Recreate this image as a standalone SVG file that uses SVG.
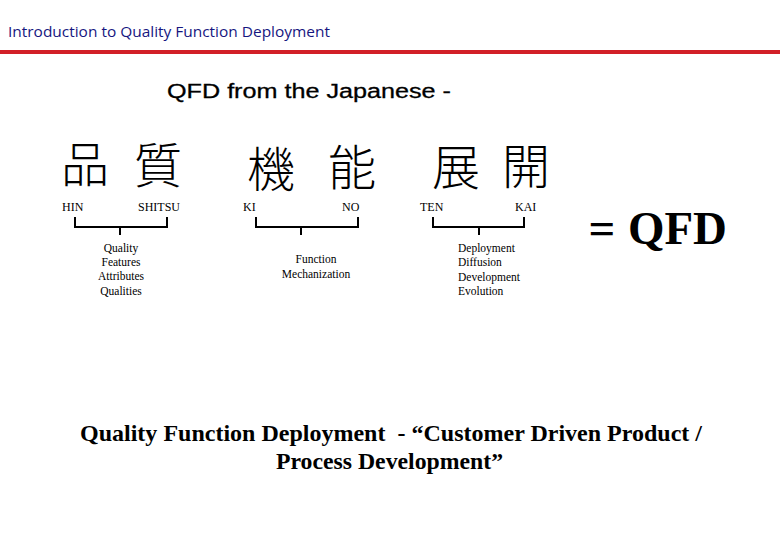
<svg xmlns="http://www.w3.org/2000/svg" width="780" height="540" viewBox="0 0 780 540">
<style>
.hdr{font-family:"Open Sans","Noto Sans",sans-serif;font-size:14px;fill:#16167f}
.ttl{font-family:"Liberation Sans",Arial,sans-serif;font-size:20px;fill:#000;stroke:#000;stroke-width:0.3}
.kj{font-family:"Noto Sans CJK JP","Noto Sans CJK SC",sans-serif;font-size:48px;font-weight:300;fill:#000;text-anchor:middle}
.lbl{font-family:"Liberation Serif","Times New Roman",serif;font-size:12px;fill:#000}
.sm{font-family:"Liberation Serif","Times New Roman",serif;font-size:11.5px;fill:#000}
.mid{text-anchor:middle}
.big{font-family:"Liberation Serif","Times New Roman",serif;font-size:47px;font-weight:bold;fill:#000}
.bot{font-family:"Liberation Serif","Times New Roman",serif;font-size:23px;font-weight:bold;fill:#000}
.br{fill:none;stroke:#000;stroke-width:2}
</style>
<rect width="780" height="540" fill="#fff"/>
<g id="header">
<text class="hdr" x="8" y="37" textLength="322" lengthAdjust="spacingAndGlyphs">Introduction to Quality Function Deployment</text>
<rect x="0" y="50" width="780" height="4" fill="#d21f27"/>
</g>
<g id="title">
<text class="ttl" x="167" y="98" textLength="284" lengthAdjust="spacingAndGlyphs">QFD from the Japanese -</text>
</g>
<g id="hinshitsu">
<text class="kj" x="85" y="182">品</text>
<text class="kj" x="158" y="183">質</text>
<text class="lbl" x="62" y="211">HIN</text>
<text class="lbl" x="138" y="211">SHITSU</text>
<text class="sm mid" x="121" y="252">Quality</text>
<text class="sm mid" x="121" y="266">Features</text>
<text class="sm mid" x="121" y="280">Attributes</text>
<text class="sm mid" x="121" y="295">Qualities</text>
</g>
<g id="kino">
<text class="kj" x="271" y="187">機</text>
<text class="kj" x="352" y="185">能</text>
<text class="lbl" x="243" y="211">KI</text>
<text class="lbl" x="342" y="211">NO</text>
<text class="sm mid" x="316" y="263">Function</text>
<text class="sm mid" x="316" y="278">Mechanization</text>
</g>
<g id="tenkai">
<text class="kj" x="456" y="185">展</text>
<text class="kj" x="526" y="184">開</text>
<text class="lbl" x="420" y="211">TEN</text>
<text class="lbl" x="515" y="211">KAI</text>
<text class="sm" x="458" y="252">Deployment</text>
<text class="sm" x="458" y="266">Diffusion</text>
<text class="sm" x="458" y="281">Development</text>
<text class="sm" x="458" y="295">Evolution</text>
</g>
<g id="connectors">
<path class="br" d="M75,217 V227 H167 V217 M120,227 V235"/>
<path class="br" d="M256,217 V227 H358 V217 M301,227 V235"/>
<path class="br" d="M433,217 V227 H524 V217 M479,227 V235"/>
</g>
<g id="qfd">
<text class="big" x="602" y="244" text-anchor="middle">=</text>
<text class="big" x="628" y="244" textLength="99" lengthAdjust="spacingAndGlyphs">QFD</text>
</g>
<g id="footer">
<text class="bot" x="80" y="441" textLength="622" lengthAdjust="spacingAndGlyphs">Quality Function Deployment&#160; - “Customer Driven Product /</text>
<text class="bot" x="276" y="469" textLength="227" lengthAdjust="spacingAndGlyphs">Process Development”</text>
</g>
</svg>
